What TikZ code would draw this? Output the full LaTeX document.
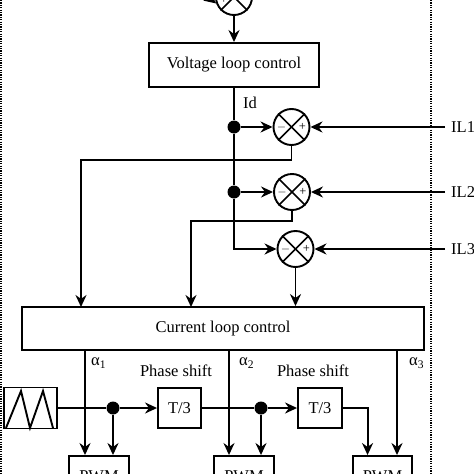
\documentclass[tikz,border=0pt]{standalone}
\usepackage{fontspec}
\setmainfont{Liberation Serif}
\usetikzlibrary{arrows.meta,calc}

\tikzset{
  blockbox/.style={draw, line width=1.9pt, rectangle, inner sep=0pt},
  sumnode/.style={draw, circle, line width=1.9pt, minimum size=36pt, inner sep=0pt},
  junction/.style={circle, fill, minimum size=13pt, inner sep=0pt},
  wire/.style={line width=1.9pt},
  arr/.style={line width=1.9pt, -{Stealth[length=12pt,width=11pt]}},
  sign/.style={font=\fontsize{12.5}{13}\selectfont, inner sep=0pt},
  border/.style={line width=1.3pt, dash pattern=on 1.2pt off 1.2pt},
}

\begin{document}
\begin{tikzpicture}[x=1pt, y=-1pt, font=\fontsize{16.5}{19}\selectfont]
  \useasboundingbox (0,0) rectangle (474,474);
  \clip (0,0) rectangle (474,474);

  \draw[border] (1,0) -- (1,474);
  \draw[border] (431,0) -- (431,474);

  % summing junctions
  \node[sumnode] (sum0) at (234,-3) {};
  \node[sumnode] (sum1) at (291.5,127) {};
  \node[sumnode] (sum2) at (292,192) {};
  \node[sumnode] (sum3) at (295.5,249) {};
  \foreach \s in {sum0,sum1,sum2,sum3} {
    \draw[line width=1.6pt] (\s.45) -- (\s.225);
    \draw[line width=1.6pt] (\s.135) -- (\s.315);
  }
  \node[sign] at ($(sum0)+(-10,3)$) {+};
  \foreach \s in {sum1,sum2,sum3} {
    \node[sign] at ($(\s)+(-10,0)$) {$-$};
    \node[sign] at ($(\s)+(11,0)$) {+};
  }

  \coordinate (ref) at (196,-12);
  \draw[arr] (ref) -- (sum0.200);

  \node[blockbox, minimum width=170pt, minimum height=44pt] (volt) at (234,65) {Voltage loop control};
  \node[junction] (dot1) at (234,127) {};
  \node[junction] (dot2) at (234,192) {};
  \node[anchor=west, inner sep=0pt] (idlab) at (243,103) {Id};

  \draw[arr] (sum0.south) -- (volt.north);
  \draw[wire] (volt.south) -- (dot1);
  \draw[arr] (dot1) -- (sum1.west);
  \draw[wire] (dot1) -- (dot2);
  \draw[arr] (dot2) -- (sum2.west);
  \draw[arr] (dot2) |- (sum3.west);

  % measured currents
  \foreach \i/\y in {1/127,2/192,3/249} {
    \coordinate (il\i) at (445,\y);
    \node[anchor=west, inner sep=0pt] (ilab\i) at (451,\y) {IL\i};
    \draw[arr] (il\i) -- (sum\i.east);
  }

  \node[blockbox, minimum width=402pt, minimum height=43pt] (cur) at (223,328.5) {Current loop control};
  \coordinate (cin1) at (81,307);
  \coordinate (cin2) at (191,307);
  \draw[arr] (sum1.south) -- ++(0,14) -| (cin1);
  \draw[arr] (sum2.south) -- ++(0,10) -| (cin2);
  \draw[arr] (sum3.south) -- (sum3 |- cur.north);

  % carrier and phase shift
  \node[blockbox, minimum width=53pt, minimum height=41pt] (gen) at (30.5,408) {};
  \draw[wire] (6,428) -- (21,391) -- (30,428) -- (43,391) -- (53,428);
  \node[blockbox, minimum width=43pt, minimum height=40pt] (tdel1) at (179.5,408) {T/3};
  \node[blockbox, minimum width=44pt, minimum height=40pt] (tdel2) at (320,408) {T/3};
  \node[junction] (dot3) at (113,408) {};
  \node[junction] (dot4) at (261,408) {};
  \node (ps1) at (176,371) {Phase shift};
  \node (ps2) at (313,371) {Phase shift};

  \node[blockbox, minimum width=60pt, minimum height=40pt] (pwm1) at (99,476) {PWM};
  \node[blockbox, minimum width=60pt, minimum height=40pt] (pwm2) at (244,476) {PWM};
  \node[blockbox, minimum width=59pt, minimum height=40pt] (pwm3) at (382.5,476) {PWM};

  \draw[wire] (gen.east) -- (dot3);
  \draw[arr] (dot3) -- (tdel1.west);
  \draw[arr] (dot3) -- (dot3 |- pwm1.north);
  \draw[wire] (tdel1.east) -- (dot4);
  \draw[arr] (dot4) -- (tdel2.west);
  \draw[arr] (dot4) -- (dot4 |- pwm2.north);
  \draw[arr] (tdel2.east) -| ([xshift=15.5pt]pwm3.north west);

  \foreach \i/\x/\lx in {1/85/91,2/229/239,3/397/409} {
    \coordinate (aout\i) at (\x,350);
    \draw[arr] (aout\i) -- (aout\i |- pwm\i.north);
    \node[anchor=west, inner sep=0pt] (alab\i) at (\lx,363) {α\textsubscript{\i}};
  }
\end{tikzpicture}
\end{document}
